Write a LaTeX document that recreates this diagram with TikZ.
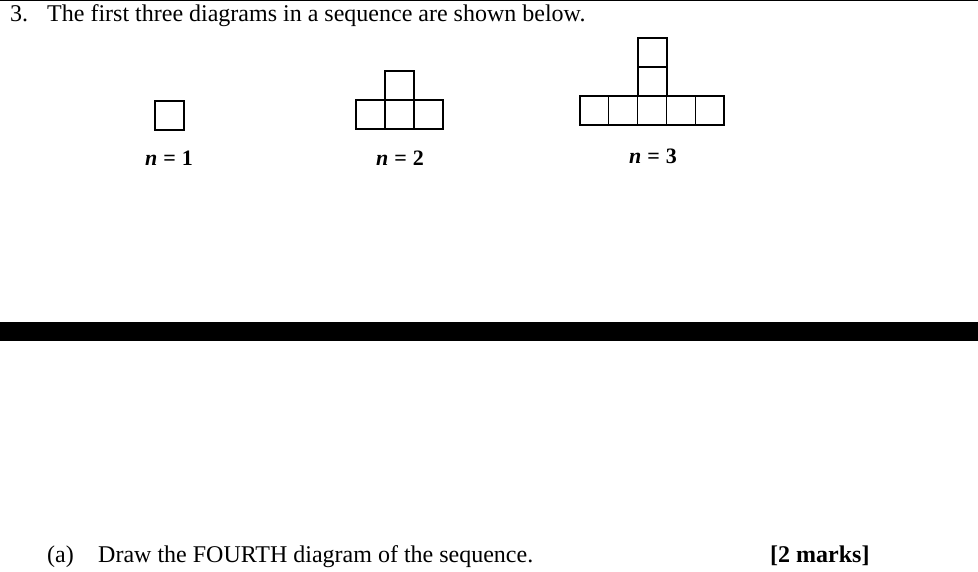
\documentclass[tikz,border=0pt]{standalone}
\usepackage{fontspec}
\setmainfont{Liberation Serif}
\begin{document}
\begin{tikzpicture}[x=1pt,y=-1pt,sq/.style={draw,line width=1.3pt},txt/.style={font=\fontsize{24}{28}\selectfont,inner sep=0,anchor=base west},lab/.style={font=\fontsize{22}{26}\selectfont\bfseries,inner sep=0}]
\useasboundingbox (0,0) rectangle (978,572);
\draw[line width=1pt] (0,1) -- (978,1);
\fill[black] (0,322) rectangle (978,341);
\node[txt] (q0) at (10,22) {3.};
\node[txt] (q) at (47,22) {The first three diagrams in a sequence are shown below.};
% n=1
\draw[sq] (155,101) rectangle (184,130);
% n=2
\foreach \i in {0,1,2} \draw[sq] (356+29*\i,100) rectangle (385+29*\i,129);
\draw[sq] (385,71) rectangle (414,100);
% n=3
\foreach \i in {0,...,4} \draw[sq] (580+28.8*\i,96) rectangle (608.8+28.8*\i,125);
\draw[sq] (638,67) rectangle (667,96);
\draw[sq] (638,38) rectangle (667,67);
\node[lab] (l1) at (169,158) {\textit{n}\hspace{6pt}=\hspace{6pt}1};
\node[lab] (l2) at (400,158) {\textit{n}\hspace{6pt}=\hspace{6pt}2};
\node[lab] (l3) at (653,156) {\textit{n}\hspace{6pt}=\hspace{6pt}3};
\node[txt] (a0) at (47,562) {(a)};
\node[txt] (a) at (98,562) {Draw the FOURTH diagram of the sequence.};
\node[txt,font=\fontsize{24}{28}\selectfont\bfseries] (m) at (770,562) {[2 marks]};
\end{tikzpicture}
\end{document}
